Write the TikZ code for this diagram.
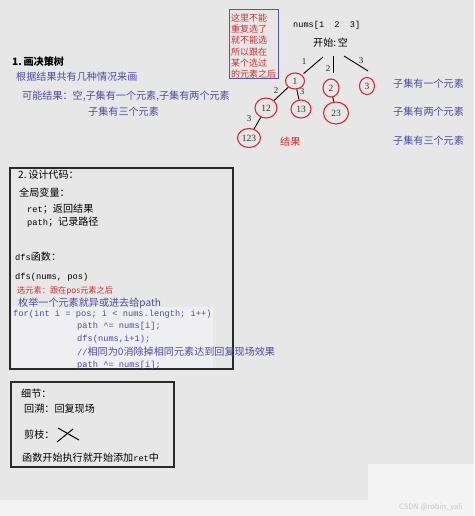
\documentclass[tikz,border=0pt]{standalone}
\usepackage{fontspec}
\setmainfont{Noto Sans CJK SC}
\setmonofont{Liberation Mono}
\newfontfamily\numfont{Liberation Serif}
\usetikzlibrary{shapes.geometric}
\definecolor{bgray}{HTML}{E7E7E7}
\definecolor{bwhite}{HTML}{F3F3F3}
\definecolor{codebg}{HTML}{EFEFF2}
\definecolor{txtblue}{HTML}{4B4BA8}
\definecolor{txtred}{HTML}{D23030}
\definecolor{circred}{HTML}{D42A32}
\definecolor{boxblue}{HTML}{5656A8}
\definecolor{boxline}{HTML}{2A2A2A}
\begin{document}
\begin{tikzpicture}[x=1pt,y=-1pt,
  lbl/.style={anchor=west,inner sep=0pt,font=\fontsize{10.1}{11}\selectfont},
  btxt/.style={lbl,text=txtblue},
  rtxt/.style={lbl,text=txtred},
  ktxt/.style={lbl,text=black},
  codetxt/.style={anchor=west,inner sep=0pt,text=txtblue,font=\fontsize{8.7}{10}\ttfamily},
  circ/.style={ellipse,draw=circred,line width=1.1pt,inner sep=0pt,font=\fontsize{9.5}{10}\numfont,text=black!80},
  tline/.style={draw=black,line width=0.9pt},
  elbl/.style={inner sep=0pt,font=\fontsize{9}{10}\numfont,text=black!85},
  framebox/.style={draw=boxline,line width=1.1pt}
]
\useasboundingbox (0,0) rectangle (474,516);
% background
\fill[bwhite] (0,0) rectangle (474,516);
\fill[bgray] (0,0) rectangle (368,500);
\fill[bgray] (368,0) rectangle (474,464);

% ---------- section 1 ----------
\node[ktxt,font=\fontsize{10.1}{11}\selectfont\bfseries] (t1) at (12,62) {1.\,画决策树};
\node[btxt] (t2) at (16,77) {根据结果共有几种情况来画};
\node[btxt] (t3) at (22,96) {可能结果：空,子集有一个元素,子集有两个元素};
\node[btxt] (t4) at (88,112) {子集有三个元素};

% red note box
\node[draw=boxblue,line width=1pt,minimum width=49pt,minimum height=69pt,inner sep=0pt] (note) at (253.5,44.5) {};
\node[anchor=north,inner sep=0pt,align=left,text=txtred,font=\fontsize{9}{11.3}\selectfont] (notetxt) at (253.5,13.5) {这里不能\\重复选了\\就不能选\\所以跟在\\某个选过\\的元素之后};

% tree
\node[anchor=west,inner sep=0pt,font=\fontsize{8.6}{10}\ttfamily] (nums) at (293,25) {nums[1\ \ 2\ \ 3]};
\node[ktxt] (start) at (313,43) {开始:\,空};
\coordinate (c1) at (323,57);
\coordinate (c2) at (333,56);
\coordinate (e2) at (333,73);
\coordinate (c3) at (344,56);
\coordinate (e3) at (368,71);

\node[circ,minimum width=19pt,minimum height=16pt] (n1) at (295,81) {1};
\node[circ,minimum width=16pt,minimum height=18pt] (n2) at (331,88) {2};
\node[circ,minimum width=15pt,minimum height=17pt] (n3) at (367,86) {3};
\node[circ,minimum width=22pt,minimum height=20pt] (n12) at (266,108) {12};
\node[circ,minimum width=20pt,minimum height=18pt] (n13) at (301,109) {13};
\node[circ,minimum width=25pt,minimum height=22pt] (n23) at (336,113) {23};
\node[circ,minimum width=23pt,minimum height=19pt] (n123) at (249,138) {123};

\draw[tline,shorten >=2pt] (c1) -- (n1);
\draw[tline] (c2) -- (e2);
\draw[tline] (c3) -- (e3);
\draw[tline] (n1) -- (n12);
\draw[tline] (n1) -- (n13);
\draw[tline] (n2) -- (n23);
\draw[tline] (n12) -- (n123);

\node[elbl] (l1) at (304,62) {1};
\node[elbl] (l2) at (328,69) {2};
\node[elbl] (l3) at (361,61) {3};
\node[elbl] (l12) at (276,91) {2};
\node[elbl] (l13) at (302,92) {3};
\node[elbl] (l123) at (249,119) {3};

\node[rtxt] (res) at (280,142) {结果};
\node[btxt] (s1) at (393,84) {子集有一个元素};
\node[btxt] (s2) at (393,112) {子集有两个元素};
\node[btxt] (s3) at (393,141) {子集有三个元素};

% ---------- section 2 ----------
\fill[codebg] (12,307) rectangle (213,368);
\draw[framebox] (10,168) rectangle (233,369);
\node[ktxt] (h2) at (18,175) {2.\,设计代码：};
\node[ktxt] (g1) at (19,193) {全局变量：};
\node[ktxt] (g2) at (27,209) {{\fontsize{8.7}{10}\ttfamily ret}；返回结果};
\node[ktxt] (g3) at (27,222) {{\fontsize{8.7}{10}\ttfamily path}；记录路径};
\node[ktxt] (d1) at (15,257) {{\fontsize{8.7}{10}\ttfamily dfs}函数：};
\node[anchor=west,inner sep=0pt,font=\fontsize{8.7}{10}\ttfamily] (d2) at (15,277) {dfs(nums, pos)};
\node[rtxt,font=\fontsize{8.2}{9}\selectfont] (d3) at (17,291) {选元素：跟在pos元素之后};
\node[btxt] (d4) at (18,303) {枚举一个元素就异或进去给path};
\node[codetxt] (c01) at (13,314) {for(int i = pos; i < nums.length; i++)};
\node[codetxt] (c02) at (77,326) {path \textasciicircum= nums[i];};
\node[codetxt] (c03) at (77,339) {dfs(nums,i+1);};
\node[codetxt] (c04) at (77,352) {//{\rmfamily\fontsize{10.1}{11}\selectfont 相同为0消除掉相同元素达到回复现场效果}};
\node[codetxt] (c05) at (77,365) {path \textasciicircum= nums[i];};

% ---------- section 3 ----------
\draw[framebox] (11,382) rectangle (174,467);
\node[ktxt] (x1) at (21,394) {细节：};
\node[ktxt] (x2) at (24,409) {回溯：回复现场};
\node[ktxt] (x3) at (24,435) {剪枝：};
\coordinate (xa) at (58,428);
\coordinate (xb) at (79,440);
\coordinate (xc) at (57,442);
\coordinate (xd) at (73,429);
\draw[line width=1pt] (xa) -- (xb);
\draw[line width=1pt] (xc) -- (xd);
\node[ktxt] (x4) at (22,458) {函数开始执行就开始添加{\fontsize{8.7}{10}\ttfamily ret}中};

% watermark
\node[anchor=west,inner sep=0pt,text=black!22,font=\fontsize{7.5}{8}\selectfont] (wm) at (399,507) {CSDN @robin\_yali};
\end{tikzpicture}
\end{document}
